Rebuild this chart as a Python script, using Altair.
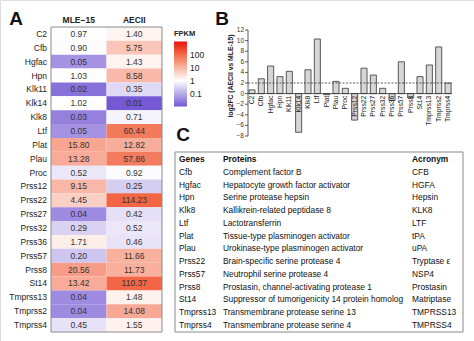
import altair as alt
import pandas as pd

# ---------------- data ----------------
genes = ["C2", "Cfb", "Hgfac", "Hpn", "Klk11", "Klk14", "Klk8", "Ltf", "Plat", "Plau", "Proc",
         "Prss12", "Prss22", "Prss27", "Prss32", "Prss36", "Prss57", "Prss8", "St14",
         "Tmprss13", "Tmprss2", "Tmprss4"]
samples = ["MLE−15", "AECII"]
mle15 = [0.97, 0.90, 0.05, 1.03, 0.02, 1.02, 0.03, 0.05, 15.80, 13.28, 0.52,
         9.15, 4.45, 0.04, 0.29, 1.71, 0.20, 20.56, 13.42, 0.04, 0.04, 0.45]
aecii = [1.40, 5.75, 1.43, 8.58, 0.35, 0.01, 0.71, 60.44, 12.82, 57.86, 0.92,
         0.25, 114.23, 0.42, 0.52, 0.46, 11.66, 11.73, 110.37, 1.48, 14.08, 1.55]
log2fc = [0.7, 2.8, 5.2, 3.2, 4.2, -7.3, 4.5, 10.3, -0.2, 2.3, 1.0,
          -5.0, 4.8, 3.5, 1.0, -1.3, 6.0, -0.8, 3.2, 5.4, 8.8, 2.0]
y_ticks = [-8, -6, -4, -2, 0, 2, 4, 6, 8, 10, 12]
threshold = [2]
legend_values = [0.1, 1, 10, 100]

table_genes = ["Cfb", "Hgfac", "Hpn", "Klk8", "Ltf", "Plat", "Plau", "Prss22", "Prss57",
               "Prss8", "St14", "Tmprss13", "Tmprss4"]
table_proteins = ["Complement factor B", "Hepatocyte growth factor activator",
                  "Serine protease hepsin", "Kallikrein-related peptidase 8",
                  "Lactotransferrin", "Tissue-type plasminogen activator",
                  "Urokinase-type plasminogen activator", "Brain-specific serine protease 4",
                  "Neutrophil serine protease 4", "Prostasin, channel-activating protease 1",
                  "Suppressor of tumorigenicity 14 protein homolog",
                  "Transmembrane protease serine 13", "Transmembrane protease serine 4"]
table_acronyms = ["CFB", "HGFA", "Hepsin", "KLK8", "LTF", "tPA", "uPA", "Tryptase ε",
                  "NSP4", "Prostasin", "Matriptase", "TMPRSS13", "TMPRSS4"]
table_header = ["Genes", "Proteins", "Acronym"]

FONT = "Liberation Sans"

# ---------------- tables ----------------
heat_df = pd.DataFrame({
    "gene": genes * 2,
    "sample": [samples[0]] * len(genes) + [samples[1]] * len(genes),
    "value": mle15 + aecii,
})
gene_df = pd.DataFrame({"gene": genes, "fc": log2fc, "zero": [0] * len(genes)})
sample_df = pd.DataFrame({"sample": samples})
tick_df = pd.DataFrame({"tick": y_ticks})
axis_df = pd.DataFrame({"lo": [min(y_ticks)], "hi": [max(y_ticks)], "zero": [0], "thr": threshold})
tab_df = pd.DataFrame({"row": table_genes, "protein": table_proteins, "acr": table_acronyms})
head_df = pd.DataFrame({"row": [table_header[0]], "g": [table_header[0]],
                        "p": [table_header[1]], "a": [table_header[2]]})
one = pd.DataFrame({"k": [0]})

# ---------------- panel A: heatmap ----------------
hx = alt.Scale(domain=samples, range=[51, 162], paddingInner=0, paddingOuter=0)
hy = alt.Scale(domain=genes, range=[27, 332], paddingInner=0, paddingOuter=0)
cscale = alt.Scale(type="log", domain=[0.01, 1, 100, 1000],
                   range=["#7458d4", "#ffffff", "#f36a48", "#e8120e"], interpolate="rgb")

rect = alt.Chart(heat_df).mark_rect().encode(
    x=alt.X("sample:N", scale=hx, axis=None),
    y=alt.Y("gene:N", scale=hy, axis=None),
    color=alt.Color("value:Q", scale=cscale, legend=alt.Legend(
        title="FPKM", orient="none", legendX=174, legendY=30, direction="vertical",
        gradientLength=65, gradientThickness=13, values=legend_values, format=".1~f",
        titleFontSize=7.5, titleFont=FONT, titleFontWeight="bold", titleColor="#222",
        labelFontSize=8.5, labelFont=FONT, labelColor="#222", labelOffset=3,
        titlePadding=4, gradientStrokeWidth=0, tickCount=4)),
)
cell_text = alt.Chart(heat_df).mark_text(fontSize=8.5, font=FONT, color="#333").encode(
    x=alt.X("sample:N", scale=hx, axis=None),
    y=alt.Y("gene:N", scale=hy, axis=None),
    text=alt.Text("value:Q", format=".2f"),
)
row_labels = alt.Chart(gene_df).mark_text(fontSize=8.5, font=FONT, color="#222", align="right").encode(
    x=alt.value(47),
    y=alt.Y("gene:N", scale=hy, axis=None),
    text="gene:N",
)
col_labels = alt.Chart(sample_df).mark_text(fontSize=8.5, font=FONT, fontWeight="bold", color="#222").encode(
    x=alt.X("sample:N", scale=hx, axis=None),
    y=alt.value(20),
    text="sample:N",
)
panel_a = alt.layer(rect, cell_text, row_labels, col_labels)

# ---------------- panel B: bar chart ----------------
bx = alt.Scale(domain=genes, range=[248, 452], paddingInner=0.35, paddingOuter=0.1)
by = alt.Scale(domain=[min(y_ticks), max(y_ticks)], range=[136, 30], nice=False, zero=False)

bars = alt.Chart(gene_df).mark_bar(fill="#d6d6d6", stroke="#333", strokeWidth=0.8).encode(
    x=alt.X("gene:N", scale=bx, axis=None),
    y=alt.Y("fc:Q", scale=by, axis=None),
    y2="zero:Q",
)
zero_line = alt.Chart(axis_df).mark_rule(color="#333", strokeWidth=0.8).encode(
    x=alt.value(248), x2=alt.value(452),
    y=alt.Y("zero:Q", scale=by, axis=None),
)
thr_line = alt.Chart(axis_df).mark_rule(color="#333", strokeWidth=0.8, strokeDash=[2, 1.5]).encode(
    x=alt.value(248), x2=alt.value(452),
    y=alt.Y("thr:Q", scale=by, axis=None),
)
y_axis = alt.Chart(axis_df).mark_rule(color="#333", strokeWidth=0.8).encode(
    x=alt.value(248),
    y=alt.Y("lo:Q", scale=by, axis=None), y2="hi:Q",
)
y_tick_marks = alt.Chart(tick_df).mark_rule(color="#333", strokeWidth=0.8).encode(
    x=alt.value(245), x2=alt.value(248),
    y=alt.Y("tick:Q", scale=by, axis=None),
)
y_tick_labels = alt.Chart(tick_df).mark_text(fontSize=6.5, font=FONT, color="#333", align="right",
                                             baseline="middle").encode(
    x=alt.value(244),
    y=alt.Y("tick:Q", scale=by, axis=None),
    text="tick:Q",
)
x_labels = alt.Chart(gene_df).mark_text(fontSize=6.8, font=FONT, color="#222", angle=270,
                                        align="right", baseline="middle", dx=-2).encode(
    x=alt.X("gene:N", scale=bx, axis=None),
    y=alt.Y("zero:Q", scale=by, axis=None),
    text="gene:N",
)
y_title = alt.Chart(one).mark_text(fontSize=6.8, font=FONT, fontWeight="bold", color="#222",
                                   angle=270, align="center", baseline="middle").encode(
    x=alt.value(231), y=alt.value(76), text=alt.value("log2FC (AECII vs MLE-15)"),
)
panel_b = alt.layer(bars, zero_line, thr_line, y_axis, y_tick_marks, y_tick_labels, x_labels, y_title)

# ---------------- panel C: table ----------------
cy = alt.Scale(type="point", domain=[table_header[0]] + table_genes, range=[159, 325], padding=0)

def col(field, xpos, df, bold=False):
    return alt.Chart(df).mark_text(fontSize=8.4, font=FONT, color="#111", align="left",
                                   baseline="middle", fontWeight="bold" if bold else "normal").encode(
        x=alt.value(xpos),
        y=alt.Y("row:N", scale=cy, axis=None),
        text=f"{field}:N",
    )

panel_c = alt.layer(
    col("g", 179, head_df, True), col("p", 223, head_df, True), col("a", 412, head_df, True),
    col("row", 179, tab_df), col("protein", 223, tab_df), col("acr", 412, tab_df),
)

# ---------------- frames and panel letters ----------------
heat_frame = alt.Chart(one).mark_rect(filled=False, stroke="#8a8a8a", strokeWidth=1).encode(
    x=alt.value(51), x2=alt.value(162), y=alt.value(27), y2=alt.value(332))
table_frame = alt.Chart(one).mark_rect(filled=False, stroke="#8a8a8a", strokeWidth=1).encode(
    x=alt.value(175), x2=alt.value(463), y=alt.value(152), y2=alt.value(332))

def letter(t, xp, yp):
    return alt.Chart(one).mark_text(fontSize=19, font=FONT, fontWeight="bold", color="#111",
                                    baseline="middle", align="center").encode(
        x=alt.value(xp), y=alt.value(yp), text=alt.value(t))

extras = alt.layer(heat_frame, table_frame,
                   letter("A", 16, 19), letter("B", 222, 19), letter("C", 183, 135))

chart = alt.layer(panel_a, panel_b, panel_c, extras).resolve_scale(
    x="independent", y="independent"
).properties(
    width=474, height=341, padding=0,
    autosize=alt.AutoSizeParams(type="none"),
    background="white",
).configure_view(stroke=None).configure(font=FONT)

chart.save("out.html", embed_options={"renderer": "svg", "actions": False})
